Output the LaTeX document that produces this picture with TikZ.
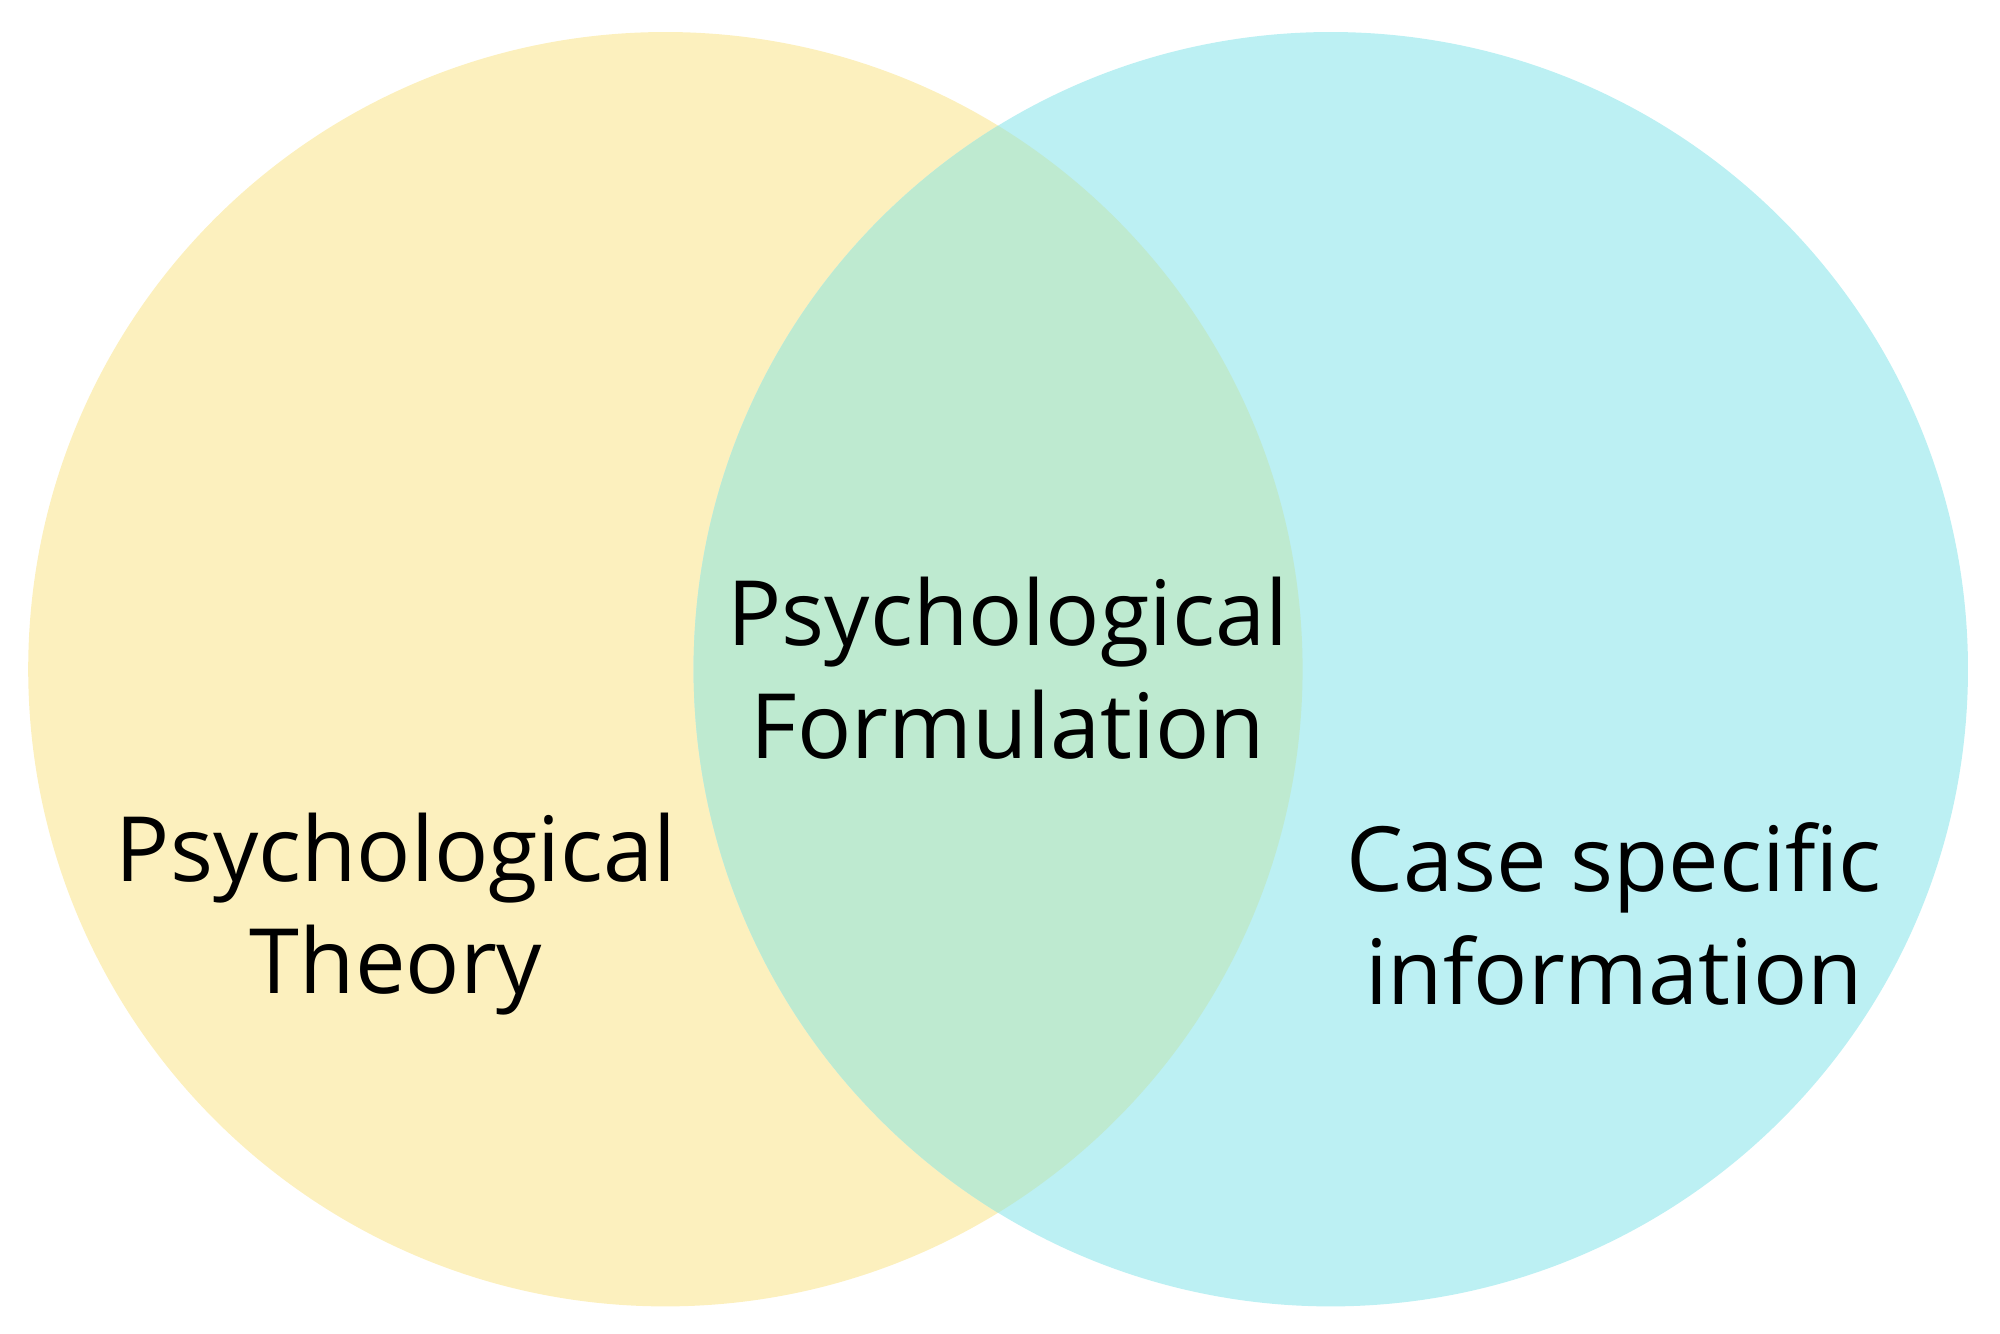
\documentclass[tikz,border=0pt]{standalone}
\usepackage{fontspec}
\setmainfont{Open Sans}
\definecolor{theoryyellow}{HTML}{FCF0BE}
\definecolor{casecyan}{HTML}{BCF0F3}
\definecolor{overlapgreen}{HTML}{BEEAD0}
\begin{document}
\begin{tikzpicture}[
    every node/.append style = {font=\fontsize{20}{25}\selectfont, align=center}
  ]
  \useasboundingbox (0,0) rectangle (15.6,10.4);
  % the two sets
  \fill[theoryyellow] (5.19,5.18) circle (4.97);
  \fill[casecyan] (10.38,5.18) circle (4.97);
  \begin{scope}
    \clip (5.19,5.18) circle (4.97);
    \fill[overlapgreen] (10.38,5.18) circle (4.97);
  \end{scope}
  % labels
  \node (theory) at (3.09,3.27) {Psychological\\Theory};
  \node (formulation) at (7.86,5.19) {Psychological\\Formulation};
  \node (casinfo) at (12.59,3.27) {Case specific\\information};
\end{tikzpicture}
\end{document}
